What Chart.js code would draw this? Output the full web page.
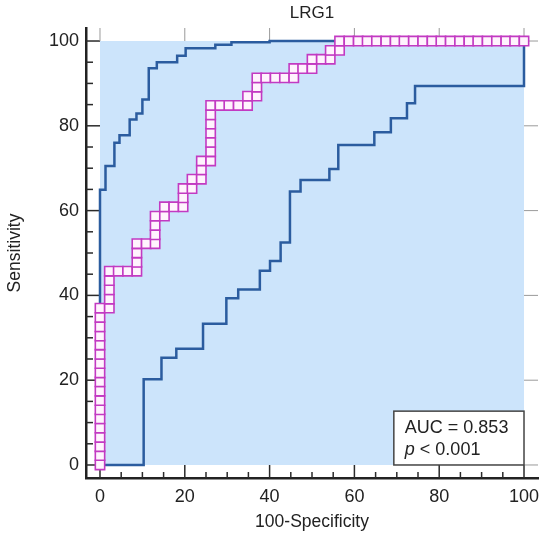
<!DOCTYPE html>
<html><head><meta charset="utf-8">
<script src="https://cdn.jsdelivr.net/npm/chart.js@4.4.0/dist/chart.umd.min.js"></script>
<style>html,body{margin:0;padding:0;background:#fff;} #wrap{width:550px;height:538px;}</style>
</head><body><div id="wrap"><canvas id="c" width="550" height="538"></canvas></div>
<script>
const chartTitle = 'LRG1';
const xTitle = '100-Specificity';
const yTitle = 'Sensitivity';
const xTicks = [0, 20, 40, 60, 80, 100];
const yTicks = [0, 20, 40, 60, 80, 100];
const aucText = 'AUC = 0.853';
const pText = ['p', ' < 0.001'];

// ROC curve (pink squares)
const rocX = [0,0,0,0,0,0,0,0,0,0,0,0,0,0,0,0,0,0,
 2.2,2.2,2.2,2.2,2.2,
 4.3,6.5,8.7,
 8.7,8.7,8.7,
 10.9,13.0,
 13.0,13.0,13.0,
 15.2,15.2,
 17.4,19.6,
 19.6,19.6,
 21.7,21.7,
 23.9,23.9,23.9,
 26.1,26.1,26.1,26.1,26.1,26.1,26.1,
 28.3,30.4,32.6,34.8,
 34.8,37.0,37.0,37.0,
 39.1,41.3,43.5,45.7,
 45.7,47.8,50.0,50.0,
 52.2,54.3,54.3,56.5,56.5,
 58.7,60.9,63.0,65.2,67.4,69.6,71.7,73.9,76.1,78.3,80.4,82.6,84.8,87.0,89.1,91.3,93.5,95.7,97.8,100];
const rocY = [0,2.2,4.3,6.5,8.7,10.9,13.0,15.2,17.4,19.6,21.7,23.9,26.1,28.3,30.4,32.6,34.8,37.0,
 37.0,39.1,41.3,43.5,45.7,
 45.7,45.7,45.7,
 47.8,50.0,52.2,
 52.2,52.2,
 54.3,56.5,58.7,
 58.7,60.9,
 60.9,60.9,
 63.0,65.2,
 65.2,67.4,
 67.4,69.6,71.7,
 71.7,73.9,76.1,78.3,80.4,82.6,84.8,
 84.8,84.8,84.8,84.8,
 87.0,87.0,89.1,91.3,
 91.3,91.3,91.3,91.3,
 93.5,93.5,93.5,95.7,
 95.7,95.7,97.8,97.8,100,
 100,100,100,100,100,100,100,100,100,100,100,100,100,100,100,100,100,100,100,100];

// Upper confidence bound
const upperX = [0,0,1.3,1.3,3.4,3.4,4.6,4.6,7.0,7.0,8.6,8.6,10.0,10.0,11.5,11.5,13.4,13.4,18.2,18.2,20.2,20.2,27.2,27.2,31.0,31.0,40.0,40.0,100];
const upperY = [0,64.9,64.9,70.5,70.5,76.0,76.0,77.8,77.8,81.5,81.5,82.9,82.9,86.2,86.2,93.6,93.6,95.0,95.0,96.5,96.5,98.3,98.3,99.1,99.1,99.7,99.7,100,100];

// Lower confidence bound
const lowerX = [0,10.3,10.3,14.5,14.5,18.0,18.0,24.3,24.3,29.8,29.8,32.6,32.6,37.7,37.7,40.1,40.1,42.6,42.6,44.8,44.8,47.3,47.3,54.1,54.1,56.2,56.2,64.7,64.7,68.6,68.6,72.4,72.4,74.3,74.3,100,100];
const lowerY = [0,0,20.2,20.2,25.3,25.3,27.4,27.4,33.3,33.3,39.3,39.3,41.4,41.4,45.8,45.8,48.1,48.1,52.5,52.5,64.5,64.5,67.2,67.2,69.8,69.8,75.5,75.5,78.5,78.5,81.8,81.8,85.3,85.3,89.4,89.4,100];

const FONT = "'Liberation Sans', Arial, sans-serif";
const toPts = (xs, ys) => xs.map((x, i) => ({x: x, y: ys[i]}));

const decor = {
  id: 'decor',
  beforeDatasetsDraw(chart) {
    const {ctx, chartArea, scales: {x, y}} = chart;
    const x0 = x.getPixelForValue(0), x1 = x.getPixelForValue(100);
    const y0 = y.getPixelForValue(0), y1 = y.getPixelForValue(100);
    ctx.save();
    ctx.fillStyle = '#cce4fb';
    ctx.fillRect(x0, y1, x1 - x0, y0 - y1);
    const L = chartArea.left, B = chartArea.bottom, T = chartArea.top, R = chartArea.right;
    ctx.strokeStyle = '#2a2a2a';
    ctx.lineWidth = 1.5;
    for (let v = 0; v <= 100; v += 5) {
      const major = v % 20 === 0;
      const py = y.getPixelForValue(v);
      ctx.beginPath(); ctx.moveTo(L, py); ctx.lineTo(major ? x0 : L + 7, py); ctx.stroke();
      const px = x.getPixelForValue(v);
      ctx.beginPath(); ctx.moveTo(px, B); ctx.lineTo(px, major ? y0 : B - 6); ctx.stroke();
    }
    ctx.strokeStyle = '#9a9a9a';
    ctx.lineWidth = 1;
    xTicks.forEach(v => {
      const px = x.getPixelForValue(v);
      ctx.beginPath(); ctx.moveTo(px, T); ctx.lineTo(px, y1); ctx.stroke();
    });
    yTicks.forEach(v => {
      const py = y.getPixelForValue(v);
      ctx.beginPath(); ctx.moveTo(x1, py); ctx.lineTo(R, py); ctx.stroke();
    });
    ctx.restore();
  },
  afterDatasetsDraw(chart) {
    const {ctx, scales: {x, y}} = chart;
    const bx0 = x.getPixelForValue(69.3), bx1 = x.getPixelForValue(100);
    const by0 = y.getPixelForValue(12.7), by1 = y.getPixelForValue(0);
    ctx.save();
    ctx.fillStyle = '#ffffff';
    ctx.fillRect(bx0, by0, bx1 - bx0, by1 - by0);
    ctx.strokeStyle = '#444';
    ctx.lineWidth = 1.5;
    ctx.strokeRect(bx0, by0, bx1 - bx0, by1 - by0);
    ctx.fillStyle = '#222';
    ctx.textBaseline = 'middle';
    ctx.textAlign = 'left';
    ctx.font = '18px ' + FONT;
    const tx = bx0 + 11;
    ctx.fillText(aucText, tx, by0 + 17);
    ctx.font = 'italic 18px ' + FONT;
    ctx.fillText(pText[0], tx, by0 + 39);
    const w = ctx.measureText(pText[0]).width;
    ctx.font = '18px ' + FONT;
    ctx.fillText(pText[1], tx + w, by0 + 39);
    ctx.restore();
  }
};

new Chart(document.getElementById('c'), {
  type: 'scatter',
  data: {
    datasets: [
      {
        label: 'ROC',
        data: toPts(rocX, rocY),
        showLine: true,
        borderColor: '#c23ac2',
        borderWidth: 1.5,
        pointStyle: 'rect',
        pointRadius: 6.6,
        pointBorderWidth: 1.6,
        pointBorderColor: '#c23ac2',
        pointBackgroundColor: '#fff3fd',
        tension: 0
      },
      {
        label: 'Upper',
        data: toPts(upperX, upperY),
        showLine: true,
        borderColor: '#2b5c9f',
        borderWidth: 2.5,
        pointRadius: 0,
        tension: 0
      },
      {
        label: 'Lower',
        data: toPts(lowerX, lowerY),
        showLine: true,
        borderColor: '#2b5c9f',
        borderWidth: 2.5,
        pointRadius: 0,
        tension: 0
      }
    ]
  },
  options: {
    responsive: false,
    animation: false,
    devicePixelRatio: 1,
    layout: {padding: {left: 0, right: 12, top: 0, bottom: 0}},
    plugins: {
      legend: {display: false},
      tooltip: {enabled: false},
      title: {
        display: true, text: chartTitle, fullSize: false, color: '#222',
        font: {family: FONT, size: 17, weight: 'normal', lineHeight: 1.2},
        padding: {top: 3, bottom: 4.6}
      }
    },
    scales: {
      x: {
        type: 'linear', min: -3.3, max: 103.3,
        grid: {display: false, drawTicks: false},
        border: {display: true, color: '#222', width: 2.5},
        ticks: {color: '#222', font: {family: FONT, size: 18}, padding: 8, maxRotation: 0, autoSkip: false},
        afterBuildTicks: s => { s.ticks = xTicks.map(v => ({value: v})); },
        afterFit: s => { s.height = 60; s.paddingLeft = 0; s.paddingRight = 0; },
        title: {display: true, text: xTitle, color: '#222', font: {family: FONT, size: 17.5}, padding: {top: 0, bottom: 5}}
      },
      y: {
        type: 'linear', min: -3.07, max: 103.07,
        grid: {display: false, drawTicks: false},
        border: {display: true, color: '#222', width: 2.5},
        ticks: {color: '#222', font: {family: FONT, size: 18}, padding: 7, autoSkip: false},
        afterBuildTicks: s => { s.ticks = yTicks.map(v => ({value: v})); },
        afterFit: s => { s.width = 86; s.paddingTop = 0; s.paddingBottom = 0; },
        title: {display: true, text: yTitle, color: '#222', font: {family: FONT, size: 17.5}, padding: {top: 5, bottom: 0}}
      }
    }
  },
  plugins: [decor]
});
</script>
</body></html>
